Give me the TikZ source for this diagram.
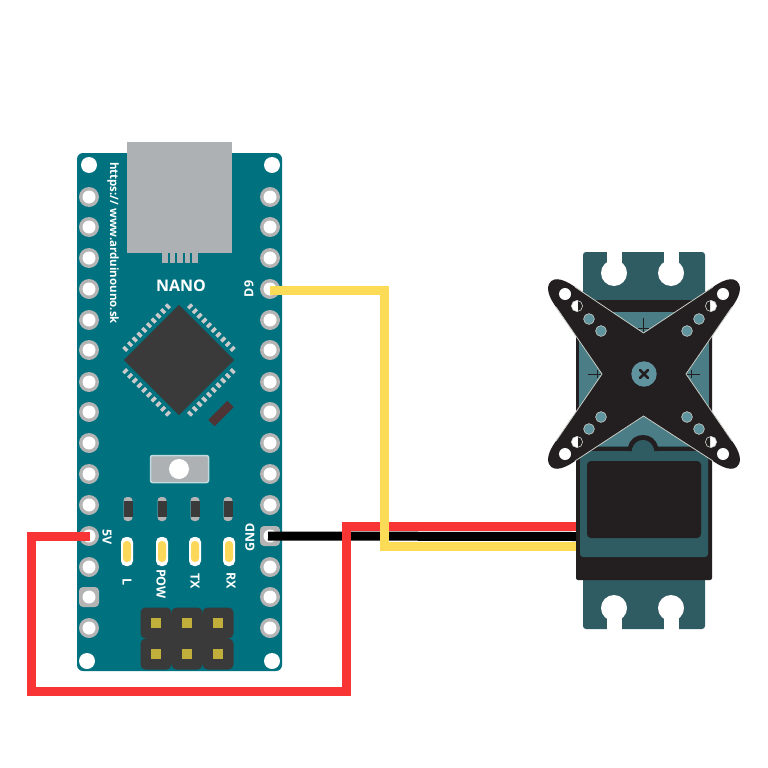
\documentclass[tikz,border=0pt]{standalone}
\usepackage{fontspec}
\setmainfont{Open Sans}
\definecolor{board}{HTML}{00717F}
\definecolor{ring}{HTML}{B5B4B4}
\definecolor{usb}{HTML}{ADB1B3}
\definecolor{chipc}{HTML}{3A3A3A}
\definecolor{ledy}{HTML}{FBD85A}
\definecolor{gold}{HTML}{C2AE3A}
\definecolor{wred}{HTML}{F93434}
\definecolor{wyel}{HTML}{FCDB56}
\definecolor{servo}{HTML}{2F5B62}
\definecolor{panel}{HTML}{4A7D86}
\definecolor{sblack}{HTML}{231F20}
\definecolor{hornline}{HTML}{C8CCC4}
\definecolor{holeblue}{HTML}{5F939E}
\tikzset{
  wire/.style={line width=9pt,line join=miter,line cap=butt},
  pinring/.style={circle,fill=ring,minimum size=20pt,inner sep=0pt},
  padring/.style={rectangle,rounded corners=4pt,fill=ring,minimum size=20pt,inner sep=0pt},
  boardtext/.style={text=white,font=\bfseries\fontsize{12.5}{12.5}\selectfont,inner sep=0pt},
}
\begin{document}
\begin{tikzpicture}[x=1pt,y=-1pt]
\useasboundingbox (0,0) rectangle (768,768);
\fill[white] (0,0) rectangle (768,768);
% board
\fill[board,rounded corners=6pt] (77,153) rectangle (282,671);
% usb
\fill[usb] (127,142) rectangle (232,253);
\foreach \x in {162,169.5,177,184.5,192}
  \fill[usb] (\x,253) rectangle ++(5.5,10);
% corner holes
\foreach \x/\y in {89/165,272/165,87/661,272/661}
  \fill[white] (\x,\y) circle[radius=8];
% pins
\foreach \y in {197,227,258,289,320,350,382,412,443,474,505,536,567,597,628}{
  \ifnum\y=597 \node[padring] at (89,\y) {};\else \node[pinring] at (89,\y) {};\fi
  \ifnum\y=536 \node[padring] at (270,\y) {};\else \node[pinring] at (270,\y) {};\fi
  \fill[white] (89,\y) circle[radius=6.5];
  \fill[white] (270,\y) circle[radius=6.5];
}
% chip
\begin{scope}[shift={(179,360)},rotate=45]
  \fill[chipc] (-39,-39) rectangle (39,39);
  \foreach \t in {-30,-23.3,-16.7,-10,-3.3,3.3,10,16.7,23.3,30}{
    \fill[ring!70!white] (\t-1.7,-48.5) rectangle (\t+1.7,-43);
    \fill[ring!70!white] (\t-1.7,43) rectangle (\t+1.7,48.5);
    \fill[ring!70!white] (-48.5,\t-1.7) rectangle (-43,\t+1.7);
    \fill[ring!70!white] (43,\t-1.7) rectangle (48.5,\t+1.7);
  }
\end{scope}
% small part
\begin{scope}[shift={(221,413.5)},rotate=45]
  \fill[chipc!90!red] (-13.5,-4.5) rectangle (13.5,4.5);
\end{scope}
% switch
\fill[usb,draw=white!75!board,line width=1.5pt,rounded corners=2pt] (150.5,455.5) rectangle (208.5,482.5);
\fill[white] (179,469) circle[radius=10];
% resistors and leds
\foreach \x in {128,162,195,228}{
  \fill[ring,rounded corners=3.5pt] (\x-4.5,497) rectangle (\x+4.5,521);
  \fill[chipc] (\x-4.5,501) rectangle (\x+4.5,517);
}
\foreach \x in {127,162,195,229}{
  \fill[white,rounded corners=5pt] (\x-6,537) rectangle (\x+6,566);
  \fill[ledy,rounded corners=3.5pt] (\x-4,541) rectangle (\x+4,562);
}
% header
\fill[chipc] (147,614) rectangle (227,663);
\foreach \x in {156,187,218}\foreach \y in {623,654}{
  \fill[chipc,rounded corners=5pt] (\x-15.5,\y-15.5) rectangle (\x+15.5,\y+15.5);
  \fill[gold] (\x-5,\y-5) rectangle (\x+5,\y+5);
}
% texts
\node[boardtext,font=\bfseries\fontsize{16}{16}\selectfont] (nano) at (181,286) {NANO};
\node[boardtext,rotate=-90,font=\bfseries\fontsize{11.5}{12}\selectfont] (url) at (113,243) {https:// www.arduinouno.sk};
\node[boardtext,rotate=90] (d9) at (249,289) {D9};
\node[boardtext,rotate=-90] (fivev) at (107,537) {5V};
\node[boardtext,rotate=90] (gnd) at (250,537) {GND};
\node[boardtext,rotate=-90] (ll) at (127,582) {L};
\node[boardtext,rotate=-90] (pow) at (161,584) {POW};
\node[boardtext,rotate=-90] (tx) at (195,581) {TX};
\node[boardtext,rotate=-90] (rx) at (231,581) {RX};
% servo tabs
\fill[servo,rounded corners=3pt] (583,252) rectangle (705,320);
\fill[servo,rounded corners=3pt] (583,560) rectangle (705,629);
\foreach \x in {614,671}{
  \fill[white] (\x,273) circle[radius=13];
  \fill[white] (\x-7.5,250) rectangle (\x+7.5,273);
  \fill[white] (\x,608) circle[radius=13];
  \fill[white] (\x-7.5,608) rectangle (\x+7.5,631);
}
% servo body
\fill[sblack] (583,300) rectangle (705,340);
\fill[sblack,rounded corners=2pt] (576,330) rectangle (712,580);
\fill[panel] (579,312) rectangle (709,450);
\fill[servo,rounded corners=3pt] (580,446) rectangle (708,557);
% bump
\fill[sblack] (579,447) rectangle (709,451);
\fill[sblack] (628,451) -- (628,447) .. controls (630,439) and (636,435) .. (643,435) .. controls (650,435) and (656,439) .. (658,447) -- (658,451) -- cycle;
\fill[servo] (632,452) -- (632,449) .. controls (634,443) and (638,440) .. (643,440) .. controls (648,440) and (652,443) .. (654,449) -- (654,452) -- cycle;
\fill[sblack,rounded corners=4pt] (587,461) rectangle (701,538);
% horn marks
\draw[sblack,line width=0.6pt] (643.5,318) -- (643.5,336) (638,328) -- (649,328);
\draw[sblack,line width=0.6pt] (588,374) -- (603,374) (597,370) -- (597,378);
\draw[sblack,line width=0.6pt] (685,374) -- (700,374) (691,370) -- (691,378);
% horn
\fill[sblack]
  (643.5,333) -- (575,287)
  .. controls (568,282) and (554,274) .. (549,284)
  .. controls (546,291) and (551,300) .. (556,307)
  -- (602,374) -- (556,441)
  .. controls (551,448) and (546,457) .. (549,464)
  .. controls (554,474) and (568,466) .. (575,461)
  -- (643.5,416) -- (713,461)
  .. controls (720,466) and (734,474) .. (739,464)
  .. controls (742,457) and (737,448) .. (732,441)
  -- (686,374) -- (732,307)
  .. controls (737,300) and (742,291) .. (739,284)
  .. controls (734,274) and (720,282) .. (713,287)
  -- cycle;
\draw[hornline,line width=0.8pt,line join=miter]
  (575,287) -- (643.5,333) -- (713,287)
  (556,307) -- (602,374) -- (556,441)
  (575,461) -- (643.5,416) -- (713,461)
  (732,307) -- (686,374) -- (732,441);
\foreach \sx in {1,-1}\foreach \sy in {1,-1}{
  \begin{scope}[shift={(644,374)},xscale=\sx,yscale=\sy]
    \fill[white] (-79,-80) circle[radius=6];
    \fill[white] (-67,-68) circle[radius=5.6];
    \fill[holeblue,draw=hornline,line width=0.6pt] (-55,-55) circle[radius=5.4];
    \fill[holeblue,draw=hornline,line width=0.6pt] (-43,-43) circle[radius=5.4];
  \end{scope}
}
\foreach \x/\a/\b in {577/1/7,711/-7/-1}\foreach \y in {306,442}{
  \begin{scope}
    \clip (\x+\a,\y-7) rectangle (\x+\b,\y+7);
    \fill[sblack] (\x,\y) circle[radius=5.6];
  \end{scope}
  \draw[hornline,line width=0.6pt] (\x,\y) circle[radius=5.6];
}
\fill[holeblue] (644,374) circle[radius=12.7];
\draw[sblack,line width=2.6pt,line cap=round] (640,370) -- (648,378) (648,370) -- (640,378);
% wires
\coordinate (pinD9) at (270,290);
\coordinate (pin5V) at (90,536);
\coordinate (pinGND) at (268,536);
\coordinate (servoS) at (576,546);
\coordinate (servoV) at (576,526.5);
\coordinate (servoG) at (576,536.5);
\draw[wire,black] (pinGND) -- (servoG);
\draw[wire,wred] (pin5V) -- (31.5,536) |- (346.5,691) |- (servoV);
\draw[wire,wyel] (pinD9) -| (384.5,546) -- (servoS);
\end{tikzpicture}
\end{document}
